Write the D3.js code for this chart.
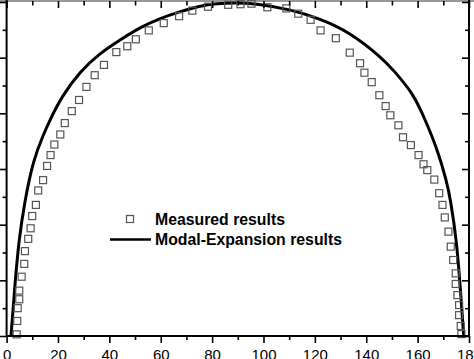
<!DOCTYPE html>
<html><head><meta charset="utf-8">
<script src="https://cdn.jsdelivr.net/npm/d3@7"></script>
<style>html,body{margin:0;padding:0;background:#fff;overflow:hidden}svg{display:block}</style>
</head><body>
<script>
// ---- data ----
const curveAngle = [1.71,3.07,4.74,7.15,10.37,14.26,16.86,21.40,28.51,36.28,44.05,51.82,59.59,67.36,75.12,81.61,90.08,98.43,110.08,121.74,133.39,146.33,150.48,158.25,162.79,167.30,171.19,172.82,175.15,176.70,177.95];
const curveValue = [0,0.165,0.345,0.489,0.632,0.722,0.776,0.860,0.950,1.016,1.063,1.108,1.141,1.165,1.186,1.195,1.197,1.193,1.174,1.141,1.093,0.998,0.956,0.872,0.780,0.680,0.561,0.489,0.345,0.165,0];
const measAngle = [3.92,4.15,4.31,4.93,4.93,5.86,6.87,7.14,8.42,9.35,9.97,11.40,12.30,14.20,15.75,17.11,18.58,20.91,22.65,25.37,28.20,31.07,34.29,37.90,42.71,46.97,50.31,55.35,61.17,67.15,72.30,78.39,86.27,91.04,95.31,101.51,108.88,113.54,118.35,122.23,128.16,133.59,137.59,139.29,142.13,145.11,147.56,149.38,152.52,154.31,157.37,160.36,162.30,163.77,166.49,168.40,169.68,170.57,172.00,172.90,173.83,174.83,174.83,175.49,176.15,176.15,176.77,177.04];
const measValue = [0.006,0.054,0.100,0.132,0.163,0.213,0.259,0.305,0.349,0.387,0.431,0.471,0.523,0.560,0.611,0.650,0.688,0.724,0.765,0.808,0.848,0.895,0.937,0.974,1.020,1.041,1.066,1.098,1.124,1.149,1.169,1.183,1.190,1.192,1.194,1.181,1.177,1.158,1.136,1.098,1.070,1.018,0.980,0.946,0.912,0.865,0.826,0.793,0.757,0.714,0.686,0.650,0.617,0.596,0.562,0.513,0.471,0.426,0.375,0.321,0.273,0.225,0.187,0.147,0.111,0.075,0.036,0.007];
const xTicks = [0,20,40,60,80,100,120,140,160,180];
const xMinorTicks = [10,30,50,70,90,110,130,150,170];
const yTicks = [0,0.2,0.4,0.6,0.8,1.0,1.2];
const yMinorTicks = [0.1,0.3,0.5,0.7,0.9,1.1];
const legendLabels = ["Measured results","Modal-Expansion results"];

// ---- chart ----
const W=474,H=359;
const svg=d3.select("body").append("svg").attr("width",W).attr("height",H);
const x=d3.scaleLinear().domain([0,180]).range([6.6,469]);
const y=d3.scaleLinear().domain([0,1.2]).range([336,2]);

// top axis line (appears gray)
svg.append("line").attr("x1",0).attr("x2",W).attr("y1",1).attr("y2",1).attr("stroke","#999").attr("stroke-width",2);

// curve
const line=d3.line().x((d,i)=>x(curveAngle[i])).y(d=>y(d)).curve(d3.curveBasis);
svg.append("path").datum(curveValue).attr("d",line).attr("fill","none").attr("stroke","#000").attr("stroke-width",3);

// measured squares
const s=7;
svg.append("g").selectAll("rect").data(measValue).join("rect")
  .attr("x",(d,i)=>x(measAngle[i])-s/2).attr("y",d=>y(d)-s/2)
  .attr("width",s).attr("height",s).attr("fill","none").attr("stroke","#555").attr("stroke-width",1.2);

// axes
function styleAxis(g){g.select(".domain").remove();g.selectAll("line").attr("stroke","#000").attr("stroke-width",1.6);}
const bottom=svg.append("g").attr("transform","translate(0,336)")
  .call(d3.axisBottom(x).tickValues(xTicks).tickSize(7).tickPadding(6).tickFormat(d3.format("d")));
styleAxis(bottom);
bottom.selectAll("text").attr("font-family","Liberation Sans, Arial, sans-serif").attr("font-size",15).attr("fill","#000").attr("dy","0.71em");
svg.append("g").attr("transform","translate(0,336)").call(d3.axisBottom(x).tickValues(xMinorTicks).tickSize(4).tickFormat("")).call(styleAxis);
svg.append("g").attr("transform","translate(0,1)").call(d3.axisBottom(x).tickValues(xTicks).tickSize(7).tickFormat("")).call(styleAxis);
svg.append("g").attr("transform","translate(0,1)").call(d3.axisBottom(x).tickValues(xMinorTicks).tickSize(4.5).tickFormat("")).call(styleAxis);
const xl=x(0), xr=x(180);
svg.append("g").attr("transform",`translate(${xl},0)`).call(d3.axisLeft(y).tickValues(yTicks).tickSize(7).tickFormat("")).call(styleAxis);
svg.append("g").attr("transform",`translate(${xl},0)`).call(d3.axisLeft(y).tickValues(yMinorTicks).tickSize(4).tickFormat("")).call(styleAxis);
svg.append("g").attr("transform",`translate(${xr},0)`).call(d3.axisLeft(y).tickValues(yTicks).tickSize(7).tickFormat("")).call(styleAxis);
svg.append("g").attr("transform",`translate(${xr},0)`).call(d3.axisLeft(y).tickValues(yMinorTicks).tickSize(4).tickFormat("")).call(styleAxis);
// frame lines
svg.append("line").attr("x1",xl).attr("x2",xr).attr("y1",336).attr("y2",336).attr("stroke","#000").attr("stroke-width",2);
svg.append("line").attr("x1",xl).attr("x2",xl).attr("y1",0).attr("y2",337).attr("stroke","#000").attr("stroke-width",2);
svg.append("line").attr("x1",xr).attr("x2",xr).attr("y1",0).attr("y2",337).attr("stroke","#000").attr("stroke-width",2);

// legend
const lg=svg.append("g").attr("font-family","Liberation Sans, Arial, sans-serif").attr("font-weight","bold").attr("font-size",15.8);
lg.append("rect").attr("x",130-3.5).attr("y",219-3.5).attr("width",7).attr("height",7).attr("fill","none").attr("stroke","#555").attr("stroke-width",1.2);
lg.append("text").attr("x",155).attr("y",224.5).text(legendLabels[0]);
lg.append("line").attr("x1",110).attr("x2",151).attr("y1",239.5).attr("y2",239.5).attr("stroke","#000").attr("stroke-width",2.5);
lg.append("text").attr("x",155).attr("y",245).text(legendLabels[1]);
</script>
</body></html>
